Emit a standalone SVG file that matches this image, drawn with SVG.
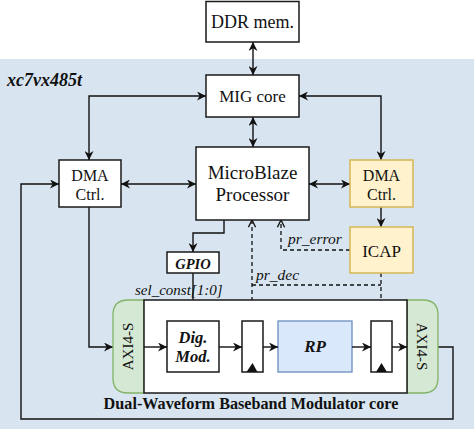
<svg xmlns="http://www.w3.org/2000/svg" width="474" height="429" viewBox="0 0 474 429">
<defs>
<marker id="a" viewBox="0 0 10 10" refX="10" refY="5" markerWidth="9" markerHeight="9" markerUnits="userSpaceOnUse" orient="auto-start-reverse"><path d="M0,0 L10,5 L0,10 L3,5 z" fill="#111"/></marker>
<marker id="o" viewBox="0 0 10 10" refX="9" refY="5" markerWidth="9" markerHeight="9" markerUnits="userSpaceOnUse" orient="auto-start-reverse"><path d="M1,1 L9,5 L1,9" fill="none" stroke="#111" stroke-width="1.5"/></marker>
<style>
.box{fill:#fff;stroke:#1a1a1a;stroke-width:1.5}
.yel{fill:#fff2cc;stroke:#d6b656;stroke-width:1.5}
.grn{fill:#d5e8d4;stroke:#82b366;stroke-width:1.3}
.rp{fill:#dae8fc;stroke:#6c8ebf;stroke-width:1.3}
text{font-family:'Liberation Serif','Times New Roman','DejaVu Serif',serif;fill:#111}
.t{text-anchor:middle}
.bi{font-weight:bold;font-style:italic}
.it{font-style:italic}
.c{fill:none;stroke:#111;stroke-width:1.4}
.d{fill:none;stroke:#111;stroke-width:1.3;stroke-dasharray:4 3}
</style>
</defs>
<rect x="0" y="59" width="474" height="370" fill="#d8e5f0"/>
<text x="7" y="86" class="it" font-family="Liberation Serif, serif" font-weight="bold" font-size="18">xc7vx485t</text>

<g id="connectors">
<path class="c" d="M253,42 V75" marker-start="url(#a)" marker-end="url(#a)"/>
<path class="c" d="M253,117 V147" marker-start="url(#a)" marker-end="url(#a)"/>
<path class="c" d="M206,96 H89 V160" marker-start="url(#a)" marker-end="url(#a)"/>
<path class="c" d="M299,96 H381 V160" marker-start="url(#a)" marker-end="url(#a)"/>
<path class="c" d="M121,184 H196" marker-start="url(#a)" marker-end="url(#a)"/>
<path class="c" d="M309,184 H350" marker-start="url(#a)" marker-end="url(#a)"/>
<path class="c" d="M381,207 V227" marker-end="url(#a)"/>
<path class="c" d="M224,220 V233 H193 V252" marker-end="url(#a)"/>
<path class="c" d="M193,273 V321" marker-end="url(#a)"/>
<path class="c" d="M89,207 V347 H113" marker-end="url(#a)"/>
<path class="c" d="M438,347 H453 V419 H21 V184 H59" marker-end="url(#a)"/>
<path class="d" d="M252,220 V321" marker-start="url(#o)" marker-end="url(#o)"/>
<path class="d" d="M252,285 H381"/>
<path class="d" d="M381,273 V321" marker-end="url(#o)"/>
<path class="d" d="M350,250 H281 V220" marker-end="url(#o)"/>
</g>

<g id="ddr"><rect class="box" x="206" y="1.5" width="93" height="40.5"/><text class="t" font-family="Liberation Serif, serif" x="252.5" y="28" font-size="18">DDR mem.</text></g>
<g id="mig"><rect class="box" x="206" y="75" width="93" height="42"/><text class="t" font-family="Liberation Serif, serif" x="252.5" y="102" font-size="17">MIG core</text></g>
<g id="microblaze"><rect class="box" x="196" y="147" width="113" height="73"/><text class="t" font-family="Liberation Serif, serif" x="252.5" y="179" font-size="19">MicroBlaze</text><text class="t" font-family="Liberation Serif, serif" x="252.5" y="201" font-size="19">Processor</text></g>
<g id="dma-left"><rect class="box" x="59" y="160" width="62" height="47"/><text class="t" font-family="Liberation Serif, serif" x="90" y="181" font-size="16">DMA</text><text class="t" font-family="Liberation Serif, serif" x="90" y="200" font-size="16">Ctrl.</text></g>
<g id="dma-right"><rect class="yel" x="350" y="160" width="63" height="47"/><text class="t" font-family="Liberation Serif, serif" x="381.5" y="181" font-size="16">DMA</text><text class="t" font-family="Liberation Serif, serif" x="381.5" y="200" font-size="16">Ctrl.</text></g>
<g id="icap"><rect class="yel" x="350" y="227" width="63" height="46"/><text class="t" font-family="Liberation Serif, serif" x="381.5" y="257" font-size="17">ICAP</text></g>
<g id="gpio"><rect class="box" x="167" y="252" width="52" height="21"/><text class="t bi" font-family="Liberation Serif, serif" x="193" y="268.5" font-size="14.5">GPIO</text></g>
<text class="it" font-family="Liberation Serif, serif" x="135" y="295" font-size="15">sel_const[1:0]</text>
<text class="it" font-family="Liberation Serif, serif" x="288" y="244" font-size="15.5">pr_error</text>
<text class="it" font-family="Liberation Serif, serif" x="256" y="280" font-size="15.5">pr_dec</text>

<g id="core">
<path class="grn" d="M144,300 H128 Q113,300 113,315 V378 Q113,393 128,393 H144 Z"/>
<path class="grn" d="M407,300 H423 Q438,300 438,315 V378 Q438,393 423,393 H407 Z"/>
<rect class="box" x="144" y="300" width="263" height="93"/>
<text class="t" font-family="Liberation Serif, serif" font-size="15" transform="translate(133,346.5) rotate(-90)">AXI4-S</text>
<text class="t" font-family="Liberation Serif, serif" font-size="15" transform="translate(417,346.5) rotate(90)">AXI4-S</text>
<text class="t" font-family="Liberation Serif, serif" font-weight="bold" font-size="16.2" x="251" y="409">Dual-Waveform Baseband Modulator core</text>
</g>
<g id="digmod"><rect class="box" x="167" y="321" width="52" height="51"/><text class="t bi" font-family="Liberation Serif, serif" x="193" y="343" font-size="16.5">Dig.</text><text class="t bi" font-family="Liberation Serif, serif" x="193" y="362" font-size="16.5">Mod.</text></g>
<g id="reg1"><rect class="box" x="242" y="321" width="21" height="51"/><path d="M246.5,372 L257.5,372 L252.5,363 Z" fill="#111"/></g>
<g id="rp"><rect class="rp" x="278" y="321" width="74" height="51"/><text class="t bi" font-family="Liberation Serif, serif" x="315" y="352" font-size="17">RP</text></g>
<g id="reg2"><rect class="box" x="371" y="321" width="21" height="51"/><path d="M376,372 L387,372 L381.5,363 Z" fill="#111"/></g>
<g id="core-links">
<path class="c" d="M144,347 H167" marker-end="url(#a)"/>
<path class="c" d="M219,347 H242" marker-end="url(#a)"/>
<path class="c" d="M263,347 H278" marker-end="url(#a)"/>
<path class="c" d="M352,347 H371" marker-end="url(#a)"/>
<path class="c" d="M392,347 H407" marker-end="url(#a)"/>
</g>
</svg>
